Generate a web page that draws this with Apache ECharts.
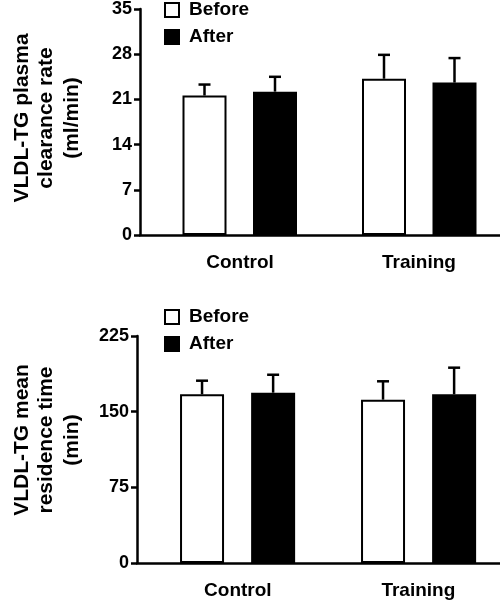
<!DOCTYPE html>
<html>
<head>
<meta charset="utf-8">
<script src="https://cdn.jsdelivr.net/npm/echarts@6/dist/echarts.min.js"></script>
<style>html,body{margin:0;background:#fff}#c{width:500px;height:603px}</style>
</head>
<body>
<div id="c"></div>
<script>
const categories = ["Control", "Training"];
const clearBefore = [21.6, 24.2];
const clearBeforeErr = [23.3, 27.9];
const clearAfter = [22.2, 23.6];
const clearAfterErr = [24.5, 27.4];
const resBefore = [167.2, 161.9];
const resBeforeErr = [180.7, 180.1];
const resAfter = [168.8, 167.2];
const resAfterErr = [186.6, 193.6];

// bar centres on a 0..360 x scale (grid spans 140..500 px)
const beforeX = [64.5, 244];
const afterX = [135, 314.5];
const labelX = [100, 279];

const font = "Liberation Sans";

function bars(xi, yi, xs, vals, filled) {
  return {
    type: "bar", xAxisIndex: xi, yAxisIndex: yi, barWidth: 44, barGap: "-100%",
    data: xs.map((x, i) => [x, vals[i]]),
    itemStyle: { color: filled ? "#000" : "#fff", borderColor: "#000", borderWidth: 2 },
    silent: true, z: 3
  };
}
function errs(xi, yi, xs, vals, tops) {
  return {
    type: "custom", xAxisIndex: xi, yAxisIndex: yi, silent: true, z: 2,
    data: xs.map((x, i) => [x, vals[i], tops[i]]),
    renderItem: (params, api) => {
      const b = api.coord([api.value(0), api.value(1)]);
      const t = api.coord([api.value(0), api.value(2)]);
      const s = { stroke: "#000", lineWidth: 2.5 };
      return { type: "group", children: [
        { type: "line", shape: { x1: b[0], y1: b[1], x2: t[0], y2: t[1] }, style: s },
        { type: "line", shape: { x1: t[0] - 6, y1: t[1], x2: t[0] + 6, y2: t[1] }, style: s }
      ]};
    }
  };
}
function xAx(gi) {
  return {
    type: "value", gridIndex: gi, min: 0, max: 360,
    axisLine: { lineStyle: { color: "#000", width: 2.5 } },
    axisTick: { show: false }, splitLine: { show: false },
    axisLabel: {
      customValues: labelX, margin: 18,
      formatter: (v) => categories[labelX.indexOf(v)],
      color: "#000", fontFamily: font, fontWeight: "bold", fontSize: 19
    }
  };
}
function yAx(gi, max, step) {
  return {
    type: "value", gridIndex: gi, min: 0, max: max, interval: step,
    axisLine: { show: true, lineStyle: { color: "#000", width: 2.5 } },
    axisTick: { show: true, length: 6, lineStyle: { width: 2.5 } },
    splitLine: { show: false },
    axisLabel: { color: "#000", fontFamily: font, fontWeight: "bold", fontSize: 18, margin: 8 }
  };
}
function legend(y) {
  const txt = { fill: "#000", font: "bold 19px " + font };
  return [
    { type: "rect", shape: { x: 165, y: y - 7, width: 14, height: 14 }, style: { fill: "#fff", stroke: "#000", lineWidth: 2 } },
    { type: "text", x: 189, y: y, style: Object.assign({ text: "Before", verticalAlign: "middle" }, txt) },
    { type: "rect", shape: { x: 164, y: y + 19, width: 16, height: 16 }, style: { fill: "#000" } },
    { type: "text", x: 189, y: y + 27, style: Object.assign({ text: "After", verticalAlign: "middle" }, txt) }
  ];
}
function ytitle(lines, xs, cy) {
  return lines.map((t, i) => ({
    type: "text", x: xs[i], y: cy, rotation: Math.PI / 2,
    style: { text: t, fill: "#000", font: "bold 21px " + font, align: "center", verticalAlign: "middle" }
  }));
}

const chart = echarts.init(document.getElementById("c"));
chart.setOption({
  animation: false,
  grid: [
    { left: 140, top: 8, width: 360, height: 227 },
    { left: 137, top: 336, width: 363, height: 227 }
  ],
  xAxis: [xAx(0), xAx(1)],
  yAxis: [yAx(0, 35, 7), yAx(1, 225, 75)],
  series: [
    errs(0, 0, beforeX, clearBefore, clearBeforeErr),
    errs(0, 0, afterX, clearAfter, clearAfterErr),
    bars(0, 0, beforeX, clearBefore, false),
    bars(0, 0, afterX, clearAfter, true),
    errs(1, 1, beforeX, resBefore, resBeforeErr),
    errs(1, 1, afterX, resAfter, resAfterErr),
    bars(1, 1, beforeX, resBefore, false),
    bars(1, 1, afterX, resAfter, true)
  ],
  graphic: [].concat(
    legend(10),
    legend(317),
    ytitle(["VLDL-TG plasma", "clearance rate", "(ml/min)"], [22, 46, 72], 118),
    ytitle(["VLDL-TG mean", "residence time", "(min)"], [22, 46, 72], 440)
  )
});
</script>
</body>
</html>
